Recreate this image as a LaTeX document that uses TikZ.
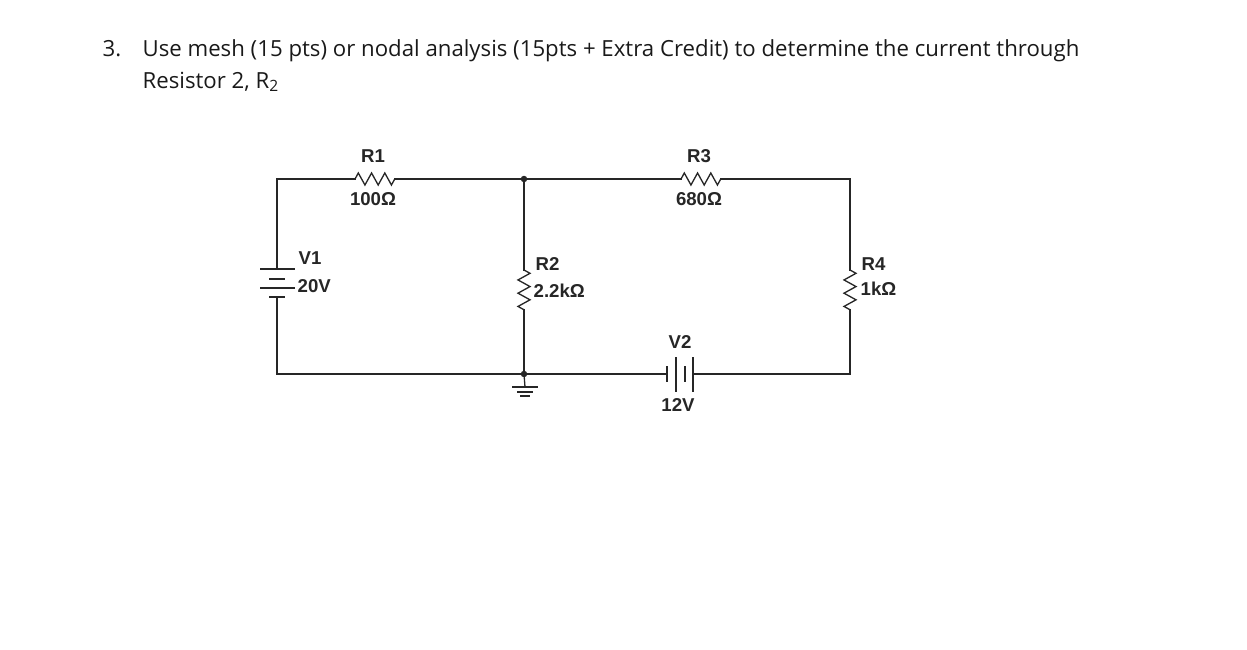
\documentclass[tikz,border=0pt]{standalone}
\usepackage{fontspec}
\setmainfont{Liberation Sans}
\newfontfamily\titlefont{Open Sans}
\usetikzlibrary{decorations.pathmorphing}

\begin{document}
\begin{tikzpicture}
    [x=0.02cm,y=-0.02cm,line width=0.75pt,color={black!85},
    wire/.style={line cap=rect},
    resbox/.style={inner sep=0pt,outer sep=0pt,minimum width=0.8cm,minimum height=0.26cm},
    resboxv/.style={inner sep=0pt,outer sep=0pt,minimum width=0.26cm,minimum height=0.8cm},
    zigzagres/.style={decorate,decoration={zigzag,segment length=0.265cm,amplitude=0.12cm}},
    junction/.style={circle,fill,inner sep=0pt,minimum size=0.13cm},
    plate/.style={fill,inner sep=0pt,outer sep=0pt,minimum height=0.028cm},
    long/.style={plate,minimum width=0.7cm},
    short/.style={plate,minimum width=0.32cm},
    label/.style={font=\bfseries\fontsize{10.6}{12}\selectfont,inner sep=0pt},
    title/.style={font=\titlefont\fontsize{12.64}{15}\selectfont,text=black!90,inner sep=0pt,anchor=base west}]
    \useasboundingbox (0,0) rectangle (1247,649);
    % text of the question
    \node[title] (num) at (102,56) {3.};
    \node[title] (line1) at (142,56) {Use mesh (15 pts) or nodal analysis (15pts + Extra Credit) to determine the current through};
    \node[title] (line2) at (142,88) {Resistor 2, R\textsubscript{2}};
    % corners and junctions
    \coordinate (tl) at (277,179);
    \coordinate (tr) at (850,179);
    \coordinate (bl) at (277,374);
    \coordinate (br) at (850,374);
    \node[junction] (jt) at (524,179) {};
    \node[junction] (jb) at (524,374) {};
    % resistors
    \node[resbox] (r1) at (375,179) {};
    \node[resbox] (r3) at (701,179) {};
    \node[resboxv] (r2) at (524,290) {};
    \node[resboxv] (r4) at (850,290) {};
    % sources
    \node[long] (v1a) at (277,269) {};
    \node[short] (v1b) at (277,279) {};
    \node[long] (v1c) at (277,288) {};
    \node[short] (v1d) at (277,297) {};
    \node[short,rotate=90] (v2a) at (667,374) {};
    \node[long,rotate=90] (v2b) at (676,374) {};
    \node[short,rotate=90] (v2c) at (685,374) {};
    \node[long,rotate=90] (v2d) at (693,374) {};
    % ground
    \node[plate,minimum width=0.52cm] (g1) at (525,387) {};
    \node[plate,minimum width=0.32cm] (g2) at (525,392) {};
    \node[plate,minimum width=0.2cm] (g3) at (525,396) {};
    % wiring
    \foreach \from/\to in {tl/v1a, v1d/bl, bl/jb, jb/v2a, v2d/br, br/r4, r4/tr, tr/r3, r3/jt, jt/r1, r1/tl, jt/r2, r2/jb, jb/g1}
    \draw[wire] (\from) -- (\to);
    \foreach \res/\from/\to in {r1/west/east, r3/west/east, r2/north/south, r4/north/south}
    \draw[zigzagres] (\res.\from) -- (\res.\to);
    % labels
    \node[label] (r1name) at (373,156) {R1};
    \node[label] (r1val) at (373,199) {100Ω};
    \node[label] (r3name) at (699,156) {R3};
    \node[label] (r3val) at (699,199) {680Ω};
    \node[label,anchor=west] (v1name) at (298,258) {V1};
    \node[label,anchor=west] (v1val) at (297,286) {20V};
    \node[label,anchor=west] (r2name) at (535,264) {R2};
    \node[label,anchor=west] (r2val) at (533,291) {2.2kΩ};
    \node[label,anchor=west] (r4name) at (861,264) {R4};
    \node[label,anchor=west] (r4val) at (860,289) {1kΩ};
    \node[label] (v2name) at (680,342) {V2};
    \node[label] (v2val) at (678,405) {12V};
  \end{tikzpicture}
\end{document}
